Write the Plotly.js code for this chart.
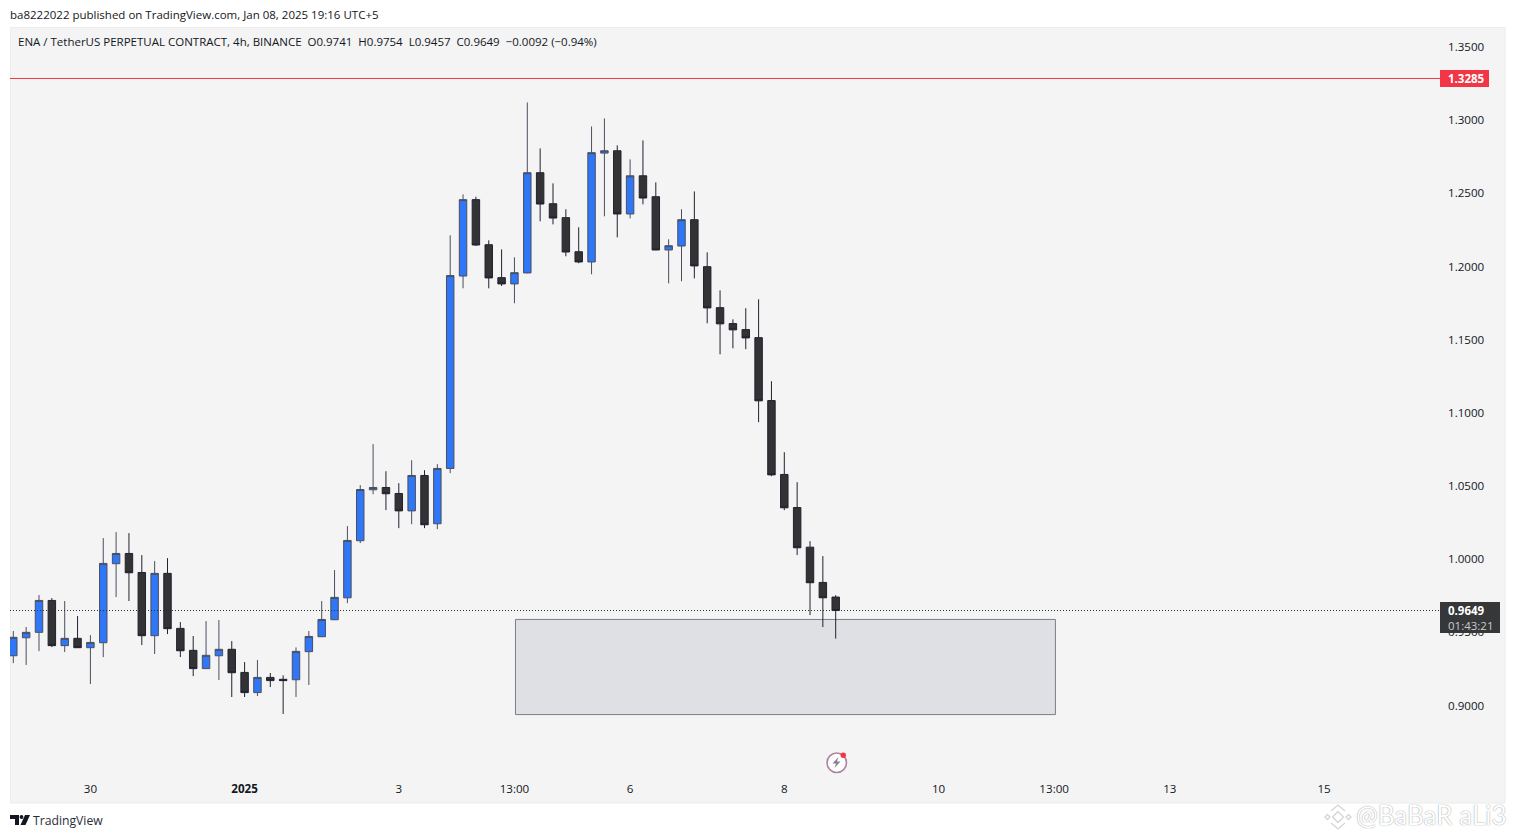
<!DOCTYPE html>
<html><head><meta charset="utf-8">
<script src="https://cdn.plot.ly/plotly-3.0.1.min.js"></script>
<style>html,body{margin:0;padding:0;background:#fff}#c{width:1515px;height:838px}</style>
</head><body><div id="c"></div>
<script>
const opens=[.9340,.9463,.9500,.9718,.9409,.9459,.9395,.9429,.9969,1.0039,.9909,.9477,.9903,.9527,.9377,.9252,.9340,.9384,.9226,.9088,.9192,.9179,.9176,.9368,.9470,.9586,.9736,1.0126,1.0474,1.0490,1.0449,1.0330,1.0572,1.0242,1.0620,1.1935,1.2457,1.2149,1.1924,1.1881,1.1956,1.2641,1.2429,1.2334,1.2101,1.2031,1.2775,1.2791,1.2359,1.2620,1.2477,1.2113,1.2140,1.2320,1.1999,1.1719,1.1610,1.1569,1.1514,1.1084,1.0579,1.0353,1.0082,.9841,.9741];
const highs=[.9509,.9536,.9755,.9734,.9714,.9611,.9481,1.0144,1.0185,1.0178,1.0028,.9987,1.0007,.9570,.9475,.9577,.9584,.9440,.9297,.9311,.9222,.9206,.9397,.9509,.9714,.9925,1.0226,1.0506,1.0786,1.0601,1.0519,1.0676,1.0608,1.0649,1.2213,1.2493,1.2477,1.2179,1.2117,1.2063,1.3121,1.2807,1.2568,1.2391,1.2268,1.2957,1.3012,1.2828,1.2732,1.2862,1.2575,1.2186,1.2391,1.2513,1.2097,1.1837,1.1639,1.1715,1.1776,1.1216,1.0731,1.0526,1.0123,1.0021,.9754];
const lows=[.9290,.9277,.9372,.9399,.9365,.9393,.9147,.9331,.9741,.9714,.9413,.9352,.9488,.9331,.9201,.9250,.9174,.9058,.9058,.9065,.9126,.8942,.9058,.9140,.9468,.9584,.9700,1.0110,1.0444,1.0335,1.0212,1.0239,1.0212,1.0205,1.0588,1.1851,1.2140,1.1851,1.1867,1.1749,1.1954,1.2309,1.2288,1.2070,1.2022,1.1947,1.2343,1.2199,1.2329,1.2425,1.2111,1.1885,1.1899,1.1919,1.1612,1.1400,1.1441,1.1435,1.0936,1.0567,1.0335,1.0028,.9618,.9536,.9457];
const closes=[.9466,.9500,.9718,.9409,.9459,.9395,.9431,.9971,1.0039,.9907,.9477,.9903,.9525,.9374,.9252,.9343,.9384,.9224,.9088,.9192,.9170,.9170,.9370,.9472,.9588,.9739,1.0128,1.0476,1.0490,1.0447,1.0330,1.0572,1.0235,1.0620,1.1938,1.2457,1.2147,1.1922,1.1881,1.1958,1.2641,1.2427,1.2331,1.2099,1.2031,1.2778,1.2791,1.2359,1.2620,1.2468,1.2113,1.2142,1.2320,1.2004,1.1717,1.1608,1.1567,1.1512,1.1082,1.0576,1.0351,1.0078,.9839,.9736,.9649];
const barIndex=opens.map((_,i)=>i);
const timeTickIndex=[6,18,30,39,48,60,72,81,90,102];
const timeTickText=['30','<b>2025</b>','3','13:00','6','8','10','13:00','13','15'];
const priceTicks=[.9,.95,1,1.05,1.1,1.15,1.2,1.25,1.3,1.35];
const resistance=1.3285;
const lastPrice=.9649;
const zoneIndex=[39.08,81.1];
const zonePrice=[.8938,.9588];

const font='"Open Sans","Noto Sans",sans-serif';
const W=1515,H=838,L=10,R=1440,T=27,B=775,S=1463.3;
const px=x=>(x-L)/(R-L), py=y=>(B-y)/(B-T);
const ink='#131722', mark='#d3d5d7';
const pshape=(o)=>Object.assign({xref:'paper',yref:'paper'},o);
function poly(points,color){
  const d='M'+points.map(p=>px(p[0])+','+py(p[1])).join('L')+'Z';
  return pshape({type:'path',path:d,fillcolor:color,line:{width:0}});
}
function stroke(points,close){
  const d='M'+points.map(p=>px(p[0])+','+py(p[1])).join('L')+(close?'Z':'');
  return pshape({type:'path',path:d,line:{color:mark,width:1.3}});
}
const shapes=[
  pshape({type:'rect',x0:px(10.5),x1:px(1505),y0:py(803),y1:py(27.5),fillcolor:'#f4f4f5',line:{color:'#ececee',width:1},layer:'below'}),
  {type:'rect',xref:'x',yref:'y',x0:zoneIndex[0],x1:zoneIndex[1],y0:zonePrice[0],y1:zonePrice[1],fillcolor:'#dfe0e4',line:{color:'#7d7f88',width:1},layer:'below'},
  {type:'line',xref:'paper',yref:'y',x0:0,x1:1,y0:resistance,y1:resistance,line:{color:'#f23645',width:1}},
  {type:'line',xref:'paper',yref:'y',x0:0,x1:1,y0:lastPrice,y1:lastPrice,line:{color:'#2a2e39',width:1,dash:'1px,2px'}},
  // price labels
  pshape({type:'rect',x0:px(1440),x1:px(1489),y0:py(87),y1:py(70),fillcolor:'#f23645',line:{width:0}}),
  pshape({type:'rect',x0:px(1440),x1:px(1500),y0:py(633),y1:py(602),fillcolor:'#363739',line:{width:0}}),
  // alert icon
  pshape({type:'circle',x0:px(827),x1:px(846.5),y0:py(772.5),y1:py(753),fillcolor:'#ffffff',line:{color:'#b0849c',width:1.6}}),
  poly([[838.5,757],[832.5,763.5],[836,763.5],[834.5,768],[840.5,761.5],[837,761.5]],'#8c7f96'),
  pshape({type:'circle',x0:px(840.5),x1:px(846),y0:py(758),y1:py(752.5),fillcolor:'#f23645',line:{width:0}}),
  // TradingView logo
  poly([[10,815],[19,815],[19,825],[15,825],[15,819],[10,819]],'#131722'),
  pshape({type:'circle',x0:px(19.6),x1:px(23.4),y0:py(819),y1:py(815),fillcolor:'#131722',line:{width:0}}),
  poly([[25,815],[30,815],[25.5,825],[20.5,825]],'#131722'),
  // watermark emblem
  stroke([[1331,811],[1338,805],[1345,811]]),
  stroke([[1331,823],[1338,829],[1345,823]]),
  stroke([[1338,811.5],[1343.5,817],[1338,822.5],[1332.5,817]],true),
  stroke([[1327.5,814.5],[1330,817],[1327.5,819.5],[1325,817]],true),
  stroke([[1348.5,814.5],[1351,817],[1348.5,819.5],[1346,817]],true),
];
const ann=(text,x,y,o)=>Object.assign({text,xref:'paper',yref:'paper',x:px(x),y:py(y),showarrow:false,xanchor:'left',yanchor:'middle',borderwidth:0,borderpad:0,font:{family:font,size:11.5,color:ink}},o||{});
const annotations=[
  ann('ENA / TetherUS PERPETUAL CONTRACT, 4h, BINANCE &nbsp;O0.9741 &nbsp;H0.9754 &nbsp;L0.9457 &nbsp;C0.9649 &nbsp;−0.0092 (−0.94%)',18,42),
  ann('<b>'+resistance.toFixed(4)+'</b>',1448,78.5,{font:{family:font,size:11.5,color:'#fff'}}),
  ann('<b>'+lastPrice.toFixed(4)+'</b>',1448,610.5,{font:{family:font,size:11.5,color:'#fff'}}),
  ann('01:43:21',1448,625,{font:{family:font,size:11.5,color:'#c9cbd1'}}),
  ann('TradingView',33,820.5,{font:{family:font,size:12.2,color:'#2a2e39'}}),
  ann('@BaBaR aLi3',1356,814.5,{font:{family:'Lato,sans-serif',size:26,color:'#ffffff',shadow:'0 0 1.2px #777a7e'}}),
];
const trace={type:'candlestick',x:barIndex,open:opens,high:highs,low:lows,close:closes,whiskerwidth:0,
  increasing:{line:{color:'#4a4f5e',width:1},fillcolor:'#2f77f6'},
  decreasing:{line:{color:'#20222e',width:1},fillcolor:'#333336'},hoverinfo:'skip'};
const layout={width:W,height:H,margin:{l:L,r:W-R,t:T,b:H-B,pad:0},autosize:false,showlegend:false,
  paper_bgcolor:'#ffffff',plot_bgcolor:'rgba(0,0,0,0)',boxgap:0.42,boxgroupgap:0,
  title:{text:'ba8222022 published on TradingView.com, Jan 08, 2025 19:16 UTC+5',xref:'container',yref:'container',x:10/W,xanchor:'left',y:1-15/H,yanchor:'middle',pad:{t:0,b:0,l:0,r:0},font:{family:font,size:11.5,color:ink}},
  xaxis:{type:'linear',range:[(L-13.3)/12.85,(R-13.3)/12.85],tickmode:'array',tickvals:timeTickIndex,ticktext:timeTickText,showgrid:false,zeroline:false,showline:false,ticks:'',ticklen:0,tickfont:{family:font,size:11.6,color:ink},rangeslider:{visible:false},fixedrange:true,ticklabelstandoff:5},
  yaxis:{side:'right',range:[.9+(705.5-B)/S,.9+(705.5-T)/S],tickmode:'array',tickvals:priceTicks,ticktext:priceTicks.map(v=>v.toFixed(4)),showgrid:false,zeroline:false,showline:false,ticks:'',ticklen:0,tickfont:{family:font,size:11.6,color:ink},fixedrange:true,ticklabelstandoff:7},
  shapes,annotations};
Plotly.newPlot('c',[trace],layout,{displayModeBar:false,staticPlot:true});
</script></body></html>
